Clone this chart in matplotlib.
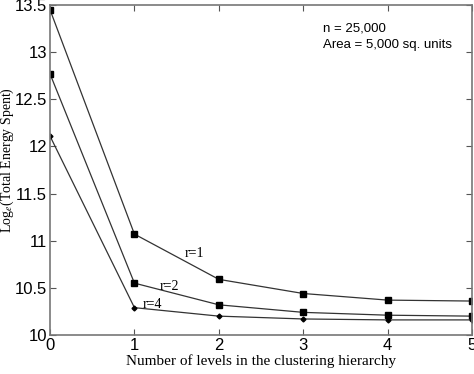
import matplotlib
matplotlib.use("Agg")
import matplotlib.pyplot as plt

levels = [0, 1, 2, 3, 4, 5]
r1 = [13.45, 11.07, 10.59, 10.44, 10.37, 10.36]
r2 = [12.77, 10.55, 10.32, 10.24, 10.21, 10.20]
r4 = [12.11, 10.29, 10.20, 10.17, 10.16, 10.16]
yticks = [10, 10.5, 11, 11.5, 12, 12.5, 13, 13.5]

plt.rcParams['mathtext.fontset'] = 'stix'

fig = plt.figure(figsize=(4.74, 3.74), dpi=100)
ax = fig.add_axes([0.1055, 0.1043, 0.8905, 0.8823])

ax.plot(levels, r1, color='#333333', lw=0.9, marker='s', ms=4, mfc='black', mec='black')
ax.plot(levels, r2, color='#333333', lw=0.9, marker='s', ms=4, mfc='black', mec='black')
ax.plot(levels, r4, color='#333333', lw=0.9, marker='D', ms=2.5, mfc='black', mec='black')

serif = 'Liberation Serif'
ax.text(1.6, 10.83, 'r=1', family=serif, fontsize=10)
ax.text(1.3, 10.48, 'r=2', family=serif, fontsize=10)
ax.text(1.1, 10.29, 'r=4', family=serif, fontsize=10)

ax.text(3.23, 13.25, 'n = 25,000', family='Liberation Sans', fontsize=9.5, va='center')
ax.text(3.23, 13.08, 'Area = 5,000 sq. units', family='Liberation Sans', fontsize=9.5, va='center')

ax.set_xlim(0, 5)
ax.set_ylim(10, 13.5)
ax.set_xticks(levels)
ax.set_yticks(yticks)
ax.set_yticklabels([f'{v:g}' for v in yticks])
ax.tick_params(direction='in', top=True, right=True, length=4, width=0.8,
               color='#555555', labelsize=12, pad=2)
for lab in ax.get_xticklabels() + ax.get_yticklabels():
    lab.set_family('Liberation Sans')
for sp in ax.spines.values():
    sp.set_color('#777777')
    sp.set_linewidth(1.2)

ax.set_xlabel('Number of levels in the clustering hierarchy', family=serif, fontsize=11, labelpad=1)
ax.set_ylabel('Log$_e$(Total Energy Spent)', family=serif, fontsize=10)
ax.yaxis.set_label_coords(-0.08, 0.53)

fig.savefig('out.png', dpi=100)
